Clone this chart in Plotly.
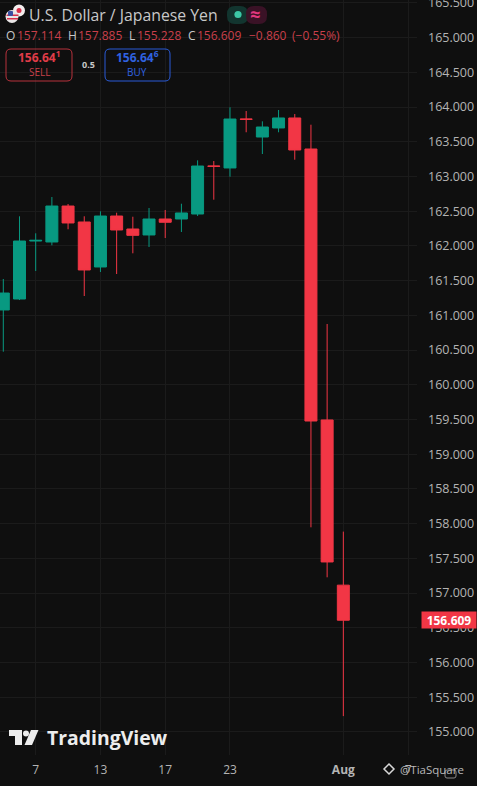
import plotly.graph_objects as go

W, H = 477, 786
PLOT_H = 755

# ---- data ----
bar_index = list(range(22))
opens = [161.077, 161.235, 162.070, 162.056, 162.574, 162.344, 161.696, 162.430, 162.243, 162.157, 162.387,
         162.387, 162.459, 163.150, 163.122, 163.827, 163.568, 163.698, 163.842, 163.395, 159.493, 157.114]
highs = [161.523, 162.426, 162.181, 162.704, 162.603, 162.426, 162.498, 162.478, 162.420, 162.546, 162.517,
         162.607, 163.232, 163.222, 163.996, 163.942, 163.794, 163.957, 163.899, 163.745, 160.875, 157.885]
lows = [160.476, 161.220, 161.638, 162.008, 162.239, 161.278, 161.624, 161.595, 161.893, 161.984, 162.113,
        162.200, 162.430, 162.665, 162.996, 163.636, 163.323, 163.636, 163.241, 157.947, 157.227, 155.228]
closes = [161.321, 162.070, 162.080, 162.574, 162.330, 161.653, 162.430, 162.229, 162.152, 162.387, 162.340,
          162.474, 163.150, 163.146, 163.827, 163.823, 163.712, 163.842, 163.381, 159.478, 157.448, 156.609]
x_tick_index = [2, 6, 10, 14, 21, 25]
x_tick_labels = ["7", "13", "17", "23", "<b>Aug</b>", "7"]
y_ticks = [155 + 0.5 * i for i in range(22)]
y_tick_labels = [f"{v:.3f}" for v in y_ticks]

UP, DOWN = "#089981", "#F23645"
BG, GRID, TXT = "#0F0F0F", "#1B1B1B", "#B4B4B4"
FONT = "Open Sans"


def px(x):
    return x / W


def py(y):
    return 1 - y / PLOT_H


def rrect(x0, y0, x1, y1, r):
    X0, X1 = px(x0), px(x1)
    Y0, Y1 = py(y0), py(y1)
    rx, ry = r / W, r / PLOT_H
    return (f"M{X0+rx},{Y0} L{X1-rx},{Y0} Q{X1},{Y0} {X1},{Y0-ry} L{X1},{Y1+ry} Q{X1},{Y1} {X1-rx},{Y1} "
            f"L{X0+rx},{Y1} Q{X0},{Y1} {X0},{Y1+ry} L{X0},{Y0-ry} Q{X0},{Y0} {X0+rx},{Y0} Z")


def poly(points):
    return "M" + " L".join(f"{px(a)},{py(b)}" for a, b in points) + " Z"


def note(text, x, y, size=12, color=TXT, anchor="left", **kw):
    return dict(text=text, x=px(x), y=py(y), xref="paper", yref="paper", xanchor=anchor, yanchor="middle",
                showarrow=False, font=dict(size=size, color=color, family=kw.pop("family", FONT)),
                borderpad=0, **kw)


fig = go.Figure(go.Candlestick(
    x=bar_index, open=opens, high=highs, low=lows, close=closes,
    increasing=dict(line=dict(color=UP, width=1), fillcolor=UP),
    decreasing=dict(line=dict(color=DOWN, width=1), fillcolor=DOWN),
    whiskerwidth=0, showlegend=False,
))

shapes = []


def add_shape(path, fill="rgba(0,0,0,0)", line="rgba(0,0,0,0)", width=1):
    shapes.append(dict(type="path", xref="paper", yref="paper", path=path, fillcolor=fill,
                       line=dict(color=line, width=width), layer="above"))


def circle(cx, cy, r, fill):
    shapes.append(dict(type="circle", xref="paper", yref="paper", x0=px(cx - r), x1=px(cx + r),
                       y0=py(cy + r), y1=py(cy - r), fillcolor=fill, line=dict(width=0), layer="above"))


# flags
circle(19, 10.5, 6, "#F4EDED")
circle(19, 10.5, 2.5, "#D8304A")
circle(12, 16.5, 6.5, "#E9E6E6")
add_shape(rrect(6.5, 14.5, 18.5, 16, 0.1), fill="#D8304A")
add_shape(rrect(7, 18, 18, 19.5, 0.1), fill="#D8304A")
add_shape(rrect(8, 11, 13, 16, 1), fill="#3A4FA0")
# status pill
add_shape(rrect(227, 6, 248, 24, 8), fill="#12352F")
add_shape(rrect(246, 6, 267, 24, 8), fill="#3A1226")
circle(238, 14.5, 3.6, "#3CC8A6")
# buttons
add_shape(rrect(6, 49, 72, 81, 5), line="#B8323D")
add_shape(rrect(105, 49, 170, 81, 5), line="#2A5BD7")
# TradingView logo
add_shape(poly([(9, 730), (22, 730), (22, 745), (15, 745), (15, 736), (9, 736)]), fill="#EDEDED")
circle(26, 733.5, 3, "#EDEDED")
add_shape(poly([(31, 730), (38.5, 730), (32, 745), (24.5, 745)]), fill="#EDEDED")
# watermark diamond
add_shape(poly([(389, 764), (394, 769), (389, 774), (384, 769)]), line="#D8D8D8", width=1.5)
add_shape(rrect(445, 770, 456, 778, 2), line="#8A8A8A")

HEAD = "#C8C8C8"
RED_TXT = "#C9404B"
annotations = [
    note("U.S. Dollar / Japanese Yen", 28, 15, size=15.8, color=HEAD),
    note("O", 5, 36, size=12, color=HEAD),
    note("157.114", 15.5, 36, size=12, color=RED_TXT),
    note("H", 66.5, 36, size=12, color=HEAD),
    note("157.885", 77, 36, size=12, color=RED_TXT),
    note("L", 128, 36, size=12, color=HEAD),
    note("155.228", 136, 36, size=12, color=RED_TXT),
    note("C", 187, 36, size=12, color=HEAD),
    note("156.609", 196, 36, size=12, color=RED_TXT),
    note("−0.860", 248, 36, size=12, color=RED_TXT),
    note("(−0.55%)", 291, 36, size=12, color=RED_TXT),
    note("<b>≈</b>", 255, 14.5, size=18, color="#E0387F", anchor="center"),
    note("<b>156.64<sup>1</sup></b>", 39, 57, size=12, color="#E03C48", anchor="center"),
    note("SELL", 39, 72, size=10, color=RED_TXT, anchor="center"),
    note("<b>0.5</b>", 88, 64.5, size=9, color=HEAD, anchor="center"),
    note("<b>156.64<sup>6</sup></b>", 137, 57, size=12, color="#2F62E0", anchor="center"),
    note("BUY", 137, 72, size=10, color="#2F62E0", anchor="center"),
    note("<b>TradingView</b>", 46, 737, size=19.4, color="#EDEDED"),
    note("@TiaSquare", 399, 769, size=11.5, color="#B8B8B8"),
    dict(text="<b>156.609</b>", x=px(449), y=closes[-1], xref="paper", yref="y", xanchor="center", yanchor="middle",
         showarrow=False, font=dict(size=12, color="#FFFFFF", family=FONT), bgcolor=DOWN,
         width=54, height=16, borderpad=0),
]

fig.update_layout(
    width=W, height=H, margin=dict(l=0, r=0, t=0, b=31, pad=0),
    paper_bgcolor=BG, plot_bgcolor=BG, showlegend=False, hovermode=False,
    font=dict(family=FONT, color=TXT, size=12),
    boxgap=0.26, boxgroupgap=0,
    shapes=shapes, annotations=annotations,
    xaxis=dict(domain=[0, 417 / W], range=[-0.204, 25.55], rangeslider=dict(visible=False), tickmode="array",
               tickvals=x_tick_index, ticktext=x_tick_labels, gridcolor=GRID, gridwidth=1, showline=False,
               ticks="", zeroline=False, tickangle=0, tickfont=dict(size=12, color=TXT), ticklabelstandoff=6),
    yaxis=dict(side="right", range=[154.668, 165.541], tickmode="array", tickvals=y_ticks, ticktext=y_tick_labels,
               gridcolor=GRID, gridwidth=1, showline=False, ticks="", zeroline=False,
               tickfont=dict(size=12.5, color=TXT), ticklabelstandoff=10, automargin=False,
               ticklabeloverflow="allow"),
)

fig.write_html("out.html", config=dict(displayModeBar=False),
               post_script="document.body.style.margin='0';document.body.style.background='#0F0F0F';")
